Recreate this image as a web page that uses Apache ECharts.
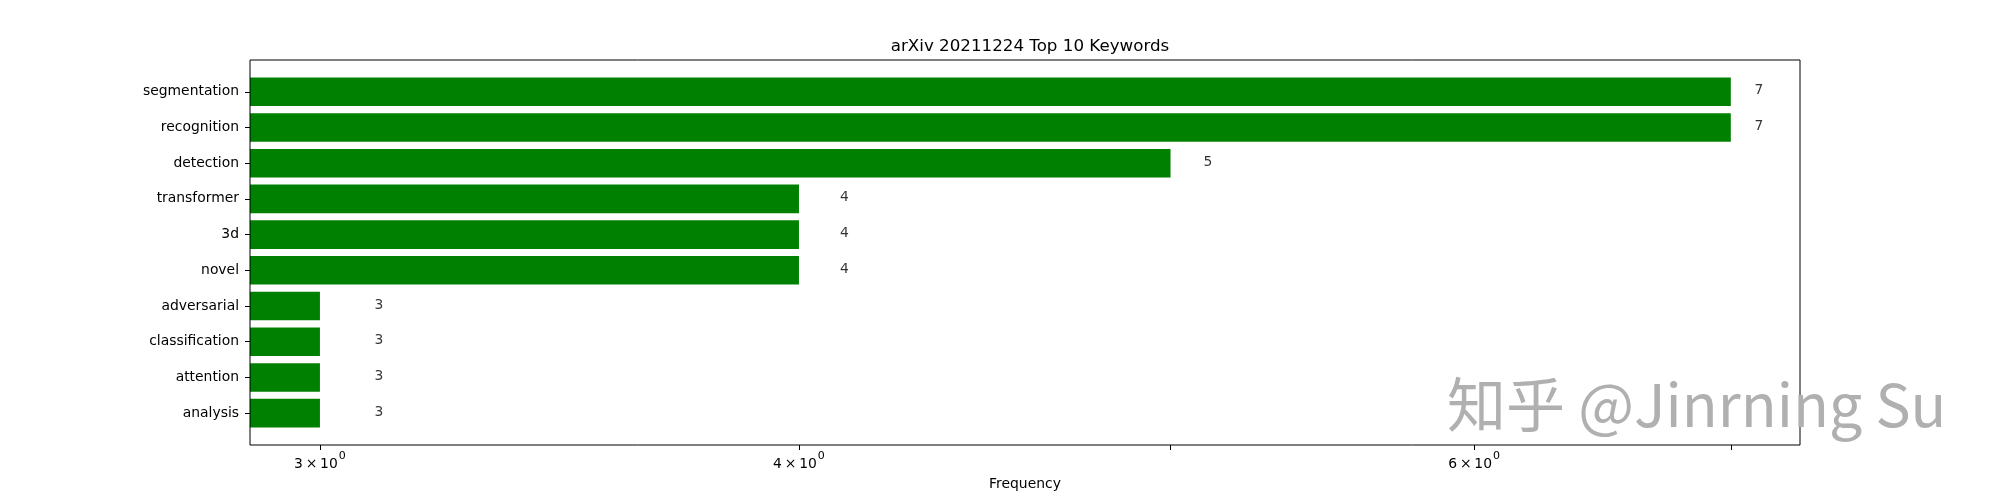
<!DOCTYPE html>
<html>
<head>
<meta charset="utf-8">
<script src="https://cdn.jsdelivr.net/npm/echarts@6/dist/echarts.min.js"></script>
<style>
html,body{margin:0;padding:0;background:#fff;}
#chart{width:2000px;height:500px;}
</style>
</head>
<body>
<div id="chart"></div>
<script>
var categories = ['segmentation','recognition','detection','transformer','3d','novel','adversarial','classification','attention','analysis'];
var frequencies = [7,7,5,4,4,4,3,3,3,3];
var tickValues = [3,4,5,6,7];
var labeledTicks = [3,4,6];
var xMin = 2.8766, xMax = 7.297;
var labelShift = 0.1;

var FONT = 'DejaVu Sans';
var chart = echarts.init(document.getElementById('chart'), null, {renderer:'canvas'});
var labelPoints = frequencies.map(function(v,i){ return {value:[v+labelShift, categories[i]], txt:String(v)}; });

chart.setOption({
  animation:false,
  backgroundColor:'#ffffff',
  title:{
    text:'arXiv 20211224 Top 10 Keywords',
    left:1025, top:33.5, textAlign:'center',
    textStyle:{fontFamily:FONT, fontSize:16.7, fontWeight:'normal', color:'#000'}
  },
  grid:[
    {left:250, top:60, width:1550, height:385, show:true, borderColor:'#000', borderWidth:1, backgroundColor:'transparent', z:5},
    {left:250, top:73.9, width:1550, height:357.1, show:false}
  ],
  xAxis:[
    {type:'log', gridIndex:0, min:xMin, max:xMax, logBase:10,
     axisLine:{show:false},
     axisTick:{show:true, customValues:tickValues, length:5, lineStyle:{color:'#000', width:1}},
     axisLabel:{show:true, customValues:labeledTicks, margin:6, color:'#000',
       formatter:function(v){ return '{a|' + Math.round(v) + '\u2009×\u200910}{s|0}'; },
       rich:{a:{fontFamily:FONT, fontSize:13.9, color:'#000', lineHeight:20, verticalAlign:'bottom'},
             s:{fontFamily:FONT, fontSize:11, color:'#000', lineHeight:20, verticalAlign:'top', padding:[0,0,0,1]}}},
     splitLine:{show:false}, minorTick:{show:false},
     name:'Frequency', nameLocation:'middle', nameGap:32,
     nameTextStyle:{fontFamily:FONT, fontSize:13.9, color:'#000'}},
    {type:'log', gridIndex:1, min:xMin, max:xMax, logBase:10, show:false}
  ],
  yAxis:[
    {type:'value', gridIndex:0, show:false, min:0, max:1},
    {type:'category', gridIndex:1, data:categories, inverse:true,
     axisLine:{show:false},
     axisTick:{show:true, alignWithLabel:true, length:5, lineStyle:{color:'#000', width:1}},
     axisLabel:{fontFamily:FONT, fontSize:13.9, color:'#000', margin:11},
     splitLine:{show:false}}
  ],
  series:[
    {type:'bar', xAxisIndex:1, yAxisIndex:1, data:frequencies, barWidth:28.6,
     itemStyle:{color:'#008000'}, clip:true},
    {type:'scatter', xAxisIndex:1, yAxisIndex:1, data:labelPoints, symbolSize:0,
     label:{show:true, position:'right', distance:0, fontFamily:FONT, fontSize:13.9, color:'#000', offset:[0,-1],
       formatter:function(p){ return p.data.txt; }}}
  ],
  graphic:[
    {type:'text', left:1447, top:375, z:100, silent:true,
     style:{text:'知乎 @Jinrning Su', fontFamily:'Noto Sans CJK SC', fontSize:59, fontWeight:'normal',
       fill:'#b0b0b0', textShadowColor:'rgba(80,80,80,0.55)', textShadowOffsetX:1.5, textShadowOffsetY:1.5, textShadowBlur:0}}
  ]
});
</script>
</body>
</html>
